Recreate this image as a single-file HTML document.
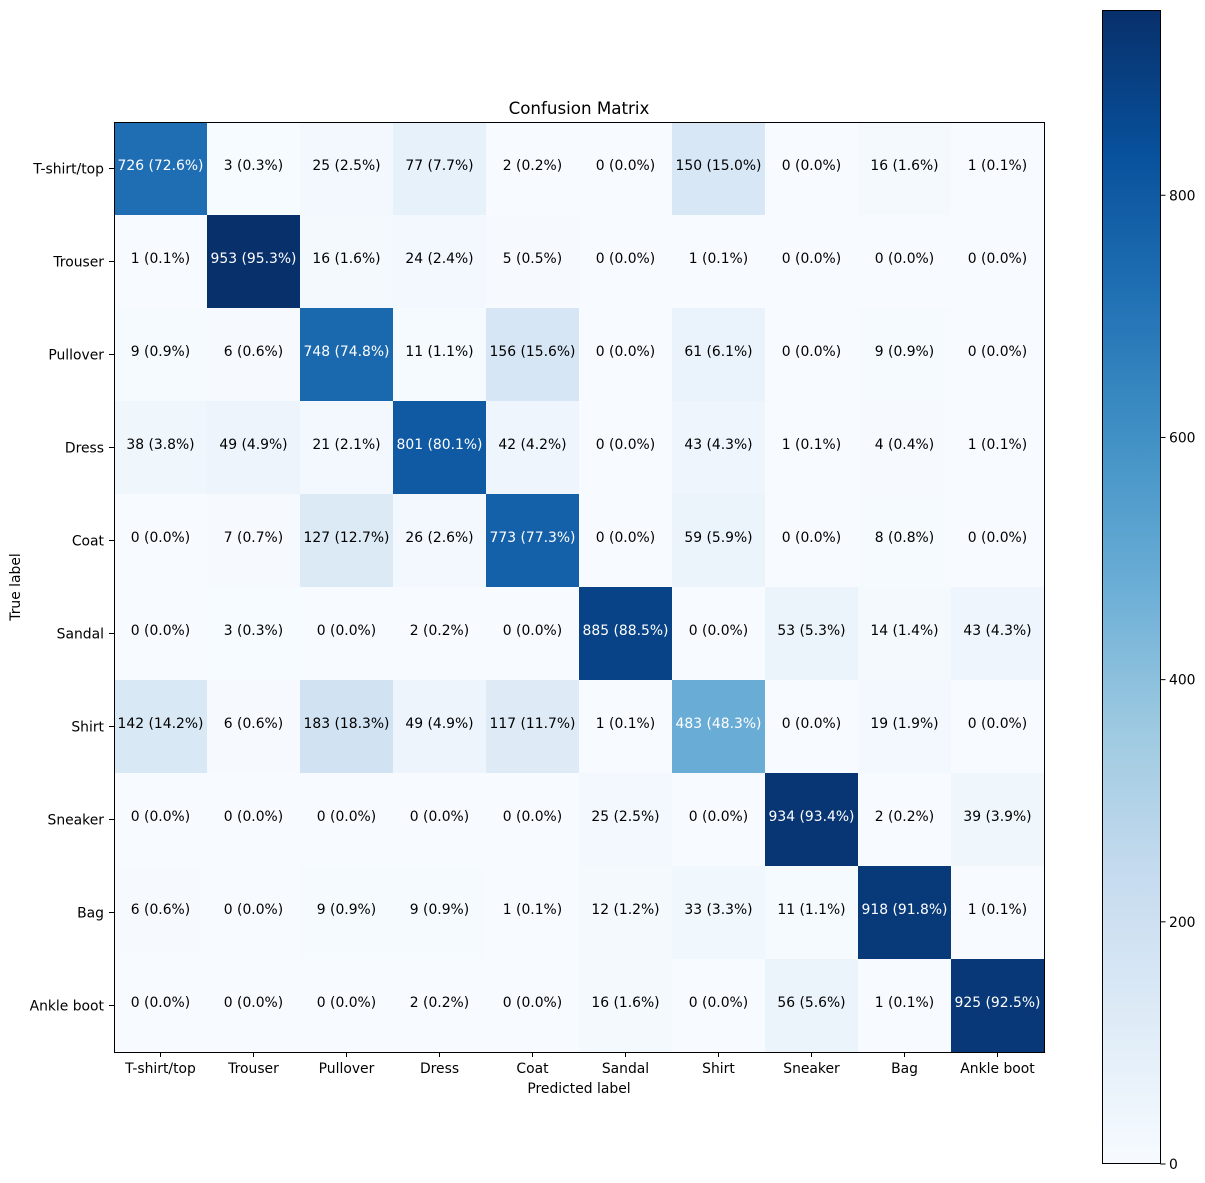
<!DOCTYPE html>
<html><head><meta charset="utf-8">
<style>
html,body{margin:0;padding:0;background:#fff;}
svg{display:block;font-family:"DejaVu Sans","Liberation Sans",sans-serif;}
</style></head>
<body>
<svg id="chart" width="1205" height="1183" viewBox="0 0 1205 1183" xmlns="http://www.w3.org/2000/svg">
<defs>
<linearGradient id="cbgrad" x1="0" y1="1" x2="0" y2="0">
<stop offset="0" stop-color="#f7fbff"/><stop offset="0.125" stop-color="#deebf7"/><stop offset="0.25" stop-color="#c6dbef"/><stop offset="0.375" stop-color="#9ecae1"/><stop offset="0.5" stop-color="#6baed6"/><stop offset="0.625" stop-color="#4292c6"/><stop offset="0.75" stop-color="#2171b5"/><stop offset="0.875" stop-color="#08519c"/><stop offset="1" stop-color="#08306b"/>
</linearGradient>
</defs>
<text x="579" y="114" text-anchor="middle" font-size="16.7">Confusion Matrix</text>
<g id="cells"></g>
<rect x="114.5" y="122.5" width="930" height="930" fill="none" stroke="#000" stroke-width="1"/>
<g id="ticks"></g>
<text x="579" y="1093" text-anchor="middle" font-size="13.9">Predicted label</text>
<text x="20" y="587" text-anchor="middle" font-size="13.9" transform="rotate(-90 20 587)">True label</text>
<g>
<rect x="1102.5" y="10.5" width="58" height="1153" fill="url(#cbgrad)" stroke="#000" stroke-width="1"/>
<g id="cbticks"></g>
</g>
</svg>
<script>
const labels = ["T-shirt/top","Trouser","Pullover","Dress","Coat","Sandal","Shirt","Sneaker","Bag","Ankle boot"];
const row0 = [726,3,25,77,2,0,150,0,16,1];
const row1 = [1,953,16,24,5,0,1,0,0,0];
const row2 = [9,6,748,11,156,0,61,0,9,0];
const row3 = [38,49,21,801,42,0,43,1,4,1];
const row4 = [0,7,127,26,773,0,59,0,8,0];
const row5 = [0,3,0,2,0,885,0,53,14,43];
const row6 = [142,6,183,49,117,1,483,0,19,0];
const row7 = [0,0,0,0,0,25,0,934,2,39];
const row8 = [6,0,9,9,1,12,33,11,918,1];
const row9 = [0,0,0,2,0,16,0,56,1,925];
const matrix = [row0,row1,row2,row3,row4,row5,row6,row7,row8,row9];
const cbTicks = [0,200,400,600,800];

const NS = "http://www.w3.org/2000/svg";
const X0 = 114, Y0 = 122, W = 930;
const n = labels.length, cw = W / n;
let vmax = 0; matrix.forEach(r => r.forEach(v => { if (v > vmax) vmax = v; }));
const vmin = 0;
const cbTop = 10, cbBot = 1164;
function colX(i){ return X0 + i * cw; }
function rowY(i){ return Y0 + i * cw; }
function cbY(v){ return cbBot - (v - vmin) / (vmax - vmin) * (cbBot - cbTop); }

const stops = [[247,251,255],[222,235,247],[198,219,239],[158,202,225],[107,174,214],[66,146,198],[33,113,181],[8,81,156],[8,48,107]];
function blues(t){
  t = Math.max(0, Math.min(1, t));
  const p = t * 8, i = Math.min(7, Math.floor(p)), f = p - i;
  const a = stops[i], b = stops[i+1];
  return "rgb(" + a.map((c,k)=>Math.round(c + (b[k]-c)*f)).join(",") + ")";
}
function mk(tag, attrs, parent){ const e = document.createElementNS(NS, tag); for (const k in attrs) e.setAttribute(k, attrs[k]); parent.appendChild(e); return e; }

const cells = document.getElementById("cells");
matrix.forEach((row, r) => {
  const tot = row.reduce((a,b)=>a+b,0);
  row.forEach((v, c) => {
    const rect = mk("rect", {x: colX(c), y: rowY(r), width: cw + 0.5, height: cw + 0.5, fill: blues((v - vmin)/(vmax - vmin))}, cells);
    
    
    const t = mk("text", {x: colX(c) + cw/2, y: rowY(r) + cw/2 + 1.5, "text-anchor": "middle", "font-size": "13.9", fill: v > vmax/2 ? "#fff" : "#000"}, cells);
    
    
    t.textContent = v + " (" + (tot ? (v / tot * 100) : 0).toFixed(1) + "%)";
  });
});

const ticks = document.getElementById("ticks");
labels.forEach((lab, i) => {
  const cx = colX(i) + cw/2;
  mk("line", {x1: cx, y1: 1052, x2: cx, y2: 1057, stroke: "#000"}, ticks);
  const tx = mk("text", {x: cx, y: 1073, "text-anchor": "middle", "font-size": "13.9"}, ticks);
  
  
  tx.textContent = lab;
  const cy = rowY(i) + cw/2;
  mk("line", {x1: 109, y1: cy, x2: 114, y2: cy, stroke: "#000"}, ticks);
  const ty = mk("text", {x: 104, y: cy + 5, "text-anchor": "end", "font-size": "13.9"}, ticks);
  
  
  ty.textContent = lab;
});

const cbt = document.getElementById("cbticks");
cbTicks.forEach(v => {
  const y = cbY(v);
  mk("line", {x1: 1160.5, y1: y, x2: 1165.5, y2: y, stroke: "#000"}, cbt);
  const t = mk("text", {x: 1169, y: y + 5, "font-size": "13.9"}, cbt);
  
  
  t.textContent = v;
});
</script>
</body></html>
